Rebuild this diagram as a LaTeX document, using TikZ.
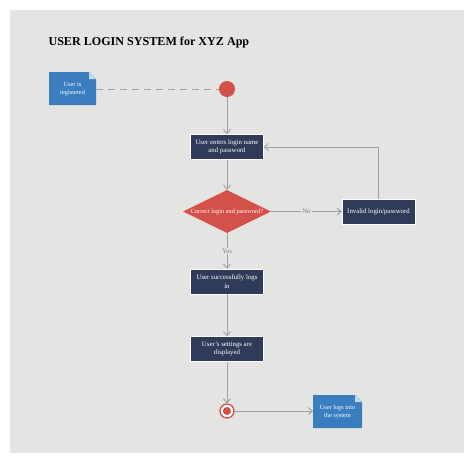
\documentclass[tikz,border=0pt]{standalone}
\usepackage{fontspec}
\setmainfont{Liberation Serif}
\usetikzlibrary{shapes.geometric,arrows.meta}
\definecolor{bg}{HTML}{E4E4E2}
\definecolor{navy}{HTML}{2F3B58}
\definecolor{redc}{HTML}{D4504A}
\definecolor{bluec}{HTML}{3A7EC0}
\definecolor{linec}{HTML}{A0A0A0}
\tikzset{
  procbox/.style={draw=white, line width=0.6pt, fill=navy, text=white, minimum width=73pt, minimum height=25pt, align=center, font=\fontsize{6.8}{8.5}\selectfont, inner sep=1pt},
  flow/.style={draw=linec, line width=0.9pt, -{Straight Barb[length=4pt,width=7pt]}},
  lbl/.style={fill=bg, text=linec!80!black, font=\fontsize{6.8}{8}\selectfont, inner sep=1pt},
  notebox/.style={text=white, font=\fontsize{6.3}{8}\selectfont, align=center}
}
\begin{document}
\begin{tikzpicture}[x=1pt,y=-1pt]
\useasboundingbox (0,0) rectangle (474,464);
\fill[bg] (10,10) rectangle (464,453);
\node[anchor=west, font=\bfseries\fontsize{12.1}{14}\selectfont] (title) at (45,43) {USER LOGIN SYSTEM for XYZ App};
% note 1
\fill[bluec] (49,72) -- (89,72) -- (96,79) -- (96,105) -- (49,105) -- cycle;
\fill[white!70!bluec] (89,72) -- (89,79) -- (96,79) -- cycle;
\node[notebox] (n1) at (72.5,89) {User is\\registered};
\coordinate (n1r) at (96,89);
% start
\node[circle, fill=redc, minimum size=16pt, inner sep=0] (start) at (227,89) {};
\draw[linec, line width=1pt, dashed, dash pattern=on 7pt off 5pt] (n1r) -- (start);
\node[procbox] (b1) at (227,147) {User enters login name\\and password};
\node[diamond, fill=redc, minimum width=88pt, minimum height=43pt, inner sep=0, aspect=2] (d) at (227,211.5) {};
\node[text=white, font=\fontsize{6.3}{8}\selectfont] (dt) at (227,211.5) {Correct login and password?};
\node[procbox] (inv) at (378.5,211.5) {Invalid login/password};
\node[procbox] (b3) at (227,281.5) {User successfully logs\\in};
\node[procbox] (b4) at (227,349) {User's settings are\\displayed};
\node[circle, draw=redc, line width=1.3pt, fill=white, minimum size=14pt, inner sep=0] (end) at (227,411) {};
\node[circle, fill=redc, minimum size=8pt, inner sep=0] (endin) at (227,411) {};
% note 2
\fill[bluec] (313,395) -- (355,395) -- (362,402) -- (362,428) -- (313,428) -- cycle;
\fill[white!70!bluec] (355,395) -- (355,402) -- (362,402) -- cycle;
\node[notebox] (n2) at (337.5,411.5) {User logs into\\the system};
\coordinate (n2l) at (313,411);
% connectors
\draw[flow] (start) -- (b1);
\draw[flow] (b1) -- (d);
\draw[flow] (d.east) -- node[lbl] {No} (inv.west);
\draw[flow] (inv.north) |- (b1.east);
\draw[flow] (d.south) -- node[lbl, pos=0.5] {Yes} (b3.north);
\draw[flow] (b3) -- (b4);
\draw[flow] (b4) -- (end);
\draw[flow] (end) -- (n2l);
\end{tikzpicture}
\end{document}
